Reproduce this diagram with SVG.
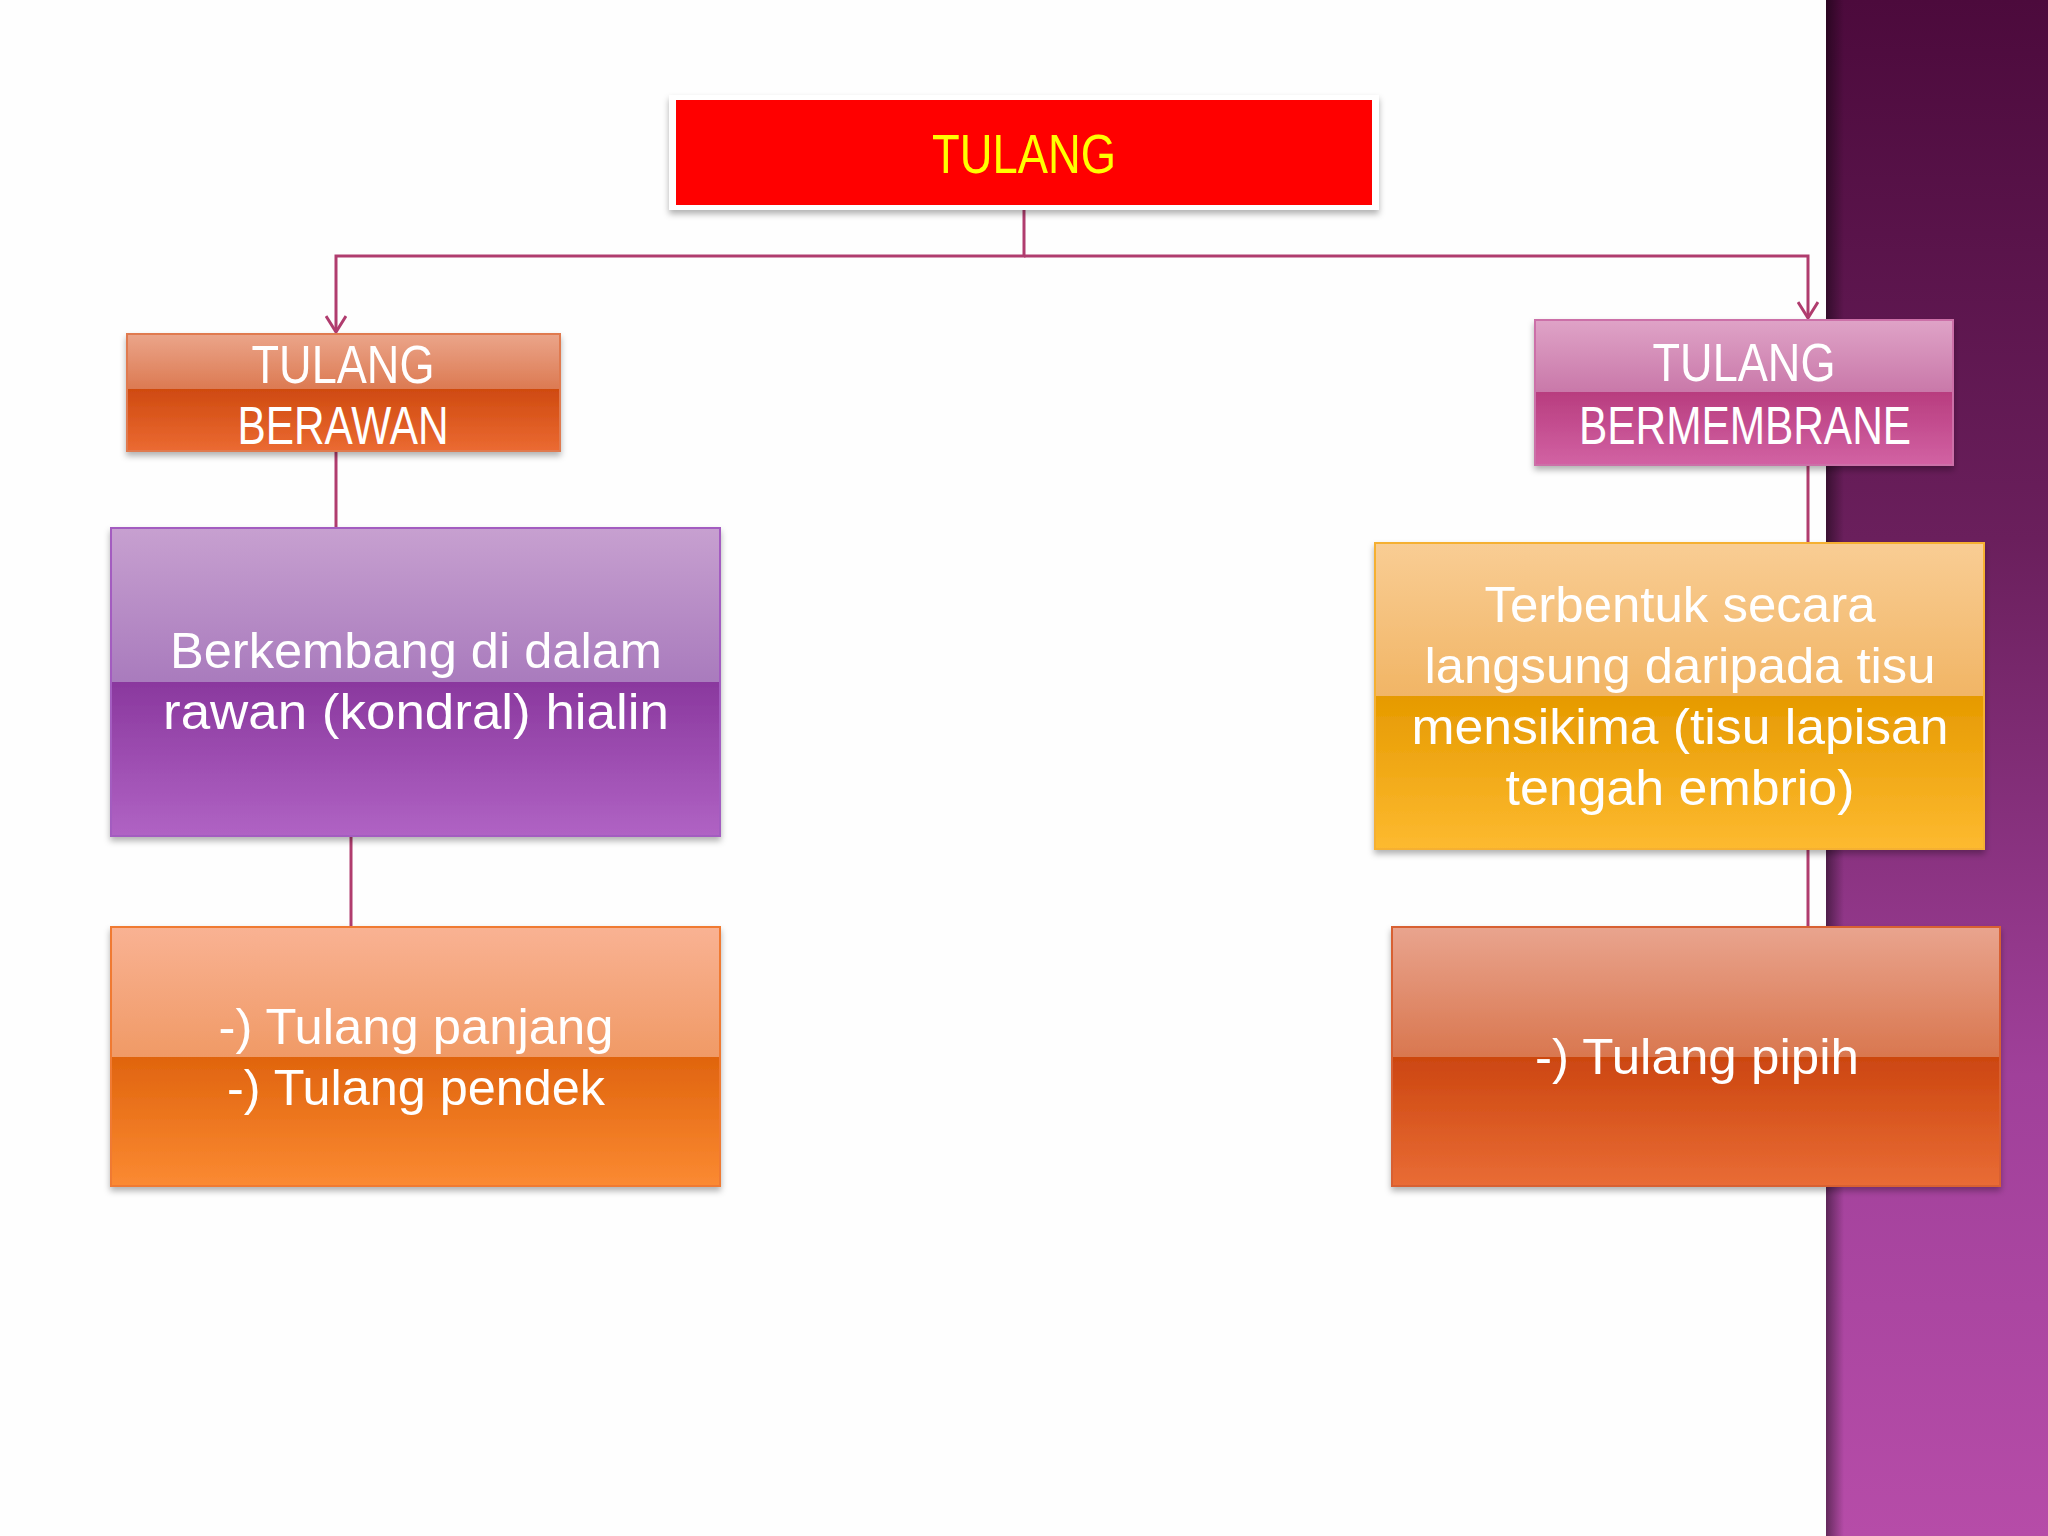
<svg xmlns="http://www.w3.org/2000/svg" width="2048" height="1536" viewBox="0 0 2048 1536">
<defs>
<style>
.t{font-family:"Liberation Sans",Arial,sans-serif;fill:#ffffff;text-anchor:middle;}
.h{font-size:54px;}
.b{font-size:50px;}
.conn{fill:none;stroke:#b03c6e;stroke-width:3;}
</style>
<linearGradient id="strip" x1="0" y1="0" x2="0" y2="1">
<stop offset="0" stop-color="#4c0a3c"/>
<stop offset="0.35" stop-color="#6a1f5c"/>
<stop offset="0.7" stop-color="#a0409a"/>
<stop offset="1" stop-color="#b64ca8"/>
</linearGradient>
<linearGradient id="stripEdge" x1="0" y1="0" x2="1" y2="0">
<stop offset="0" stop-color="#000" stop-opacity="0.45"/>
<stop offset="1" stop-color="#000" stop-opacity="0"/>
</linearGradient>
<linearGradient id="gOrH" x1="0" y1="0" x2="0" y2="1">
<stop offset="0" stop-color="#eba58a"/>
<stop offset="0.47" stop-color="#dc7a52"/>
<stop offset="0.47" stop-color="#cf4a10"/>
<stop offset="1" stop-color="#eb6a32"/>
</linearGradient>
<linearGradient id="gPk" x1="0" y1="0" x2="0" y2="1">
<stop offset="0" stop-color="#dfa3c7"/>
<stop offset="0.5" stop-color="#c978a9"/>
<stop offset="0.5" stop-color="#b83d7f"/>
<stop offset="1" stop-color="#d262a3"/>
</linearGradient>
<linearGradient id="gPu" x1="0" y1="0" x2="0" y2="1">
<stop offset="0" stop-color="#c7a0d0"/>
<stop offset="0.5" stop-color="#a97bbd"/>
<stop offset="0.5" stop-color="#8a389e"/>
<stop offset="1" stop-color="#b063c4"/>
</linearGradient>
<linearGradient id="gYe" x1="0" y1="0" x2="0" y2="1">
<stop offset="0" stop-color="#f9cd94"/>
<stop offset="0.5" stop-color="#f1b565"/>
<stop offset="0.5" stop-color="#e69a00"/>
<stop offset="1" stop-color="#fdba30"/>
</linearGradient>
<linearGradient id="gOr" x1="0" y1="0" x2="0" y2="1">
<stop offset="0" stop-color="#f9b293"/>
<stop offset="0.5" stop-color="#f09a66"/>
<stop offset="0.5" stop-color="#e0640e"/>
<stop offset="1" stop-color="#fb8a32"/>
</linearGradient>
<linearGradient id="gDo" x1="0" y1="0" x2="0" y2="1">
<stop offset="0" stop-color="#e9a48e"/>
<stop offset="0.5" stop-color="#d9774f"/>
<stop offset="0.5" stop-color="#cc4610"/>
<stop offset="1" stop-color="#e96c35"/>
</linearGradient>
<filter id="sh" x="-5%" y="-10%" width="110%" height="125%">
<feDropShadow dx="0" dy="4" stdDeviation="3" flood-color="#000" flood-opacity="0.3"/>
</filter>
<marker id="arr" markerWidth="20" markerHeight="22" refX="18" refY="11" orient="auto" markerUnits="userSpaceOnUse" viewBox="0 0 20 22">
<path d="M2,1 L18,11 L2,21" fill="none" stroke="#b03c6e" stroke-width="3"/>
</marker>
</defs>
<rect x="0" y="0" width="2048" height="1536" fill="#fefefe"/>
<g id="background-strip">
<rect x="1826" y="0" width="222" height="1536" fill="url(#strip)"/>
<rect x="1826" y="0" width="18" height="1536" fill="url(#stripEdge)"/>
</g>
<g id="connectors">
<polyline class="conn" points="1024,207 1024,256 336,256 336,332" marker-end="url(#arr)"/>
<polyline class="conn" points="1024,256 1808,256 1808,318" marker-end="url(#arr)"/>
<line class="conn" x1="336" y1="451" x2="336" y2="528"/>
<line class="conn" x1="351" y1="836" x2="351" y2="927"/>
<line class="conn" x1="1808" y1="465" x2="1808" y2="543"/>
<line class="conn" x1="1808" y1="849" x2="1808" y2="927"/>
</g>
<g id="node-tulang">
<rect x="669" y="95" width="710" height="115" fill="#ffffff" filter="url(#sh)"/>
<rect x="676" y="100" width="696" height="105" fill="#ff0000"/>
<text class="t" x="1024" y="173" font-size="56" style="fill:#ffff00" textLength="184" lengthAdjust="spacingAndGlyphs">TULANG</text>
</g>
<g id="node-berawan">
<rect x="127" y="334" width="433" height="117" fill="url(#gOrH)" stroke="#e07a50" stroke-width="2" filter="url(#sh)"/>
<text class="t h" x="343" y="383" textLength="183" lengthAdjust="spacingAndGlyphs">TULANG</text>
<text class="t h" x="343" y="444" textLength="211" lengthAdjust="spacingAndGlyphs">BERAWAN</text>
</g>
<g id="node-bermembrane">
<rect x="1535" y="320" width="418" height="145" fill="url(#gPk)" stroke="#cc6fa8" stroke-width="2" filter="url(#sh)"/>
<text class="t h" x="1744" y="381" textLength="183" lengthAdjust="spacingAndGlyphs">TULANG</text>
<text class="t h" x="1745" y="444" textLength="332" lengthAdjust="spacingAndGlyphs">BERMEMBRANE</text>
</g>
<g id="node-berkembang">
<rect x="111" y="528" width="609" height="308" fill="url(#gPu)" stroke="#a35cc0" stroke-width="2" filter="url(#sh)"/>
<text class="t b" x="416" y="668" textLength="492" lengthAdjust="spacingAndGlyphs">Berkembang di dalam</text>
<text class="t b" x="416" y="729" textLength="506" lengthAdjust="spacingAndGlyphs">rawan (kondral) hialin</text>
</g>
<g id="node-panjang">
<rect x="111" y="927" width="609" height="259" fill="url(#gOr)" stroke="#f07a30" stroke-width="2" filter="url(#sh)"/>
<text class="t b" x="416" y="1044" textLength="395" lengthAdjust="spacingAndGlyphs">-) Tulang panjang</text>
<text class="t b" x="416" y="1105" textLength="378" lengthAdjust="spacingAndGlyphs">-) Tulang pendek</text>
</g>
<g id="node-terbentuk">
<rect x="1375" y="543" width="609" height="306" fill="url(#gYe)" stroke="#f5b030" stroke-width="2" filter="url(#sh)"/>
<text class="t b" x="1680" y="622" textLength="391" lengthAdjust="spacingAndGlyphs">Terbentuk secara</text>
<text class="t b" x="1680" y="683" textLength="511" lengthAdjust="spacingAndGlyphs">langsung daripada tisu</text>
<text class="t b" x="1680" y="744" textLength="537" lengthAdjust="spacingAndGlyphs">mensikima (tisu lapisan</text>
<text class="t b" x="1680" y="805" textLength="349" lengthAdjust="spacingAndGlyphs">tengah embrio)</text>
</g>
<g id="node-pipih">
<rect x="1392" y="927" width="608" height="259" fill="url(#gDo)" stroke="#d86030" stroke-width="2" filter="url(#sh)"/>
<text class="t b" x="1697" y="1074" textLength="324" lengthAdjust="spacingAndGlyphs">-) Tulang pipih</text>
</g>
</svg>
